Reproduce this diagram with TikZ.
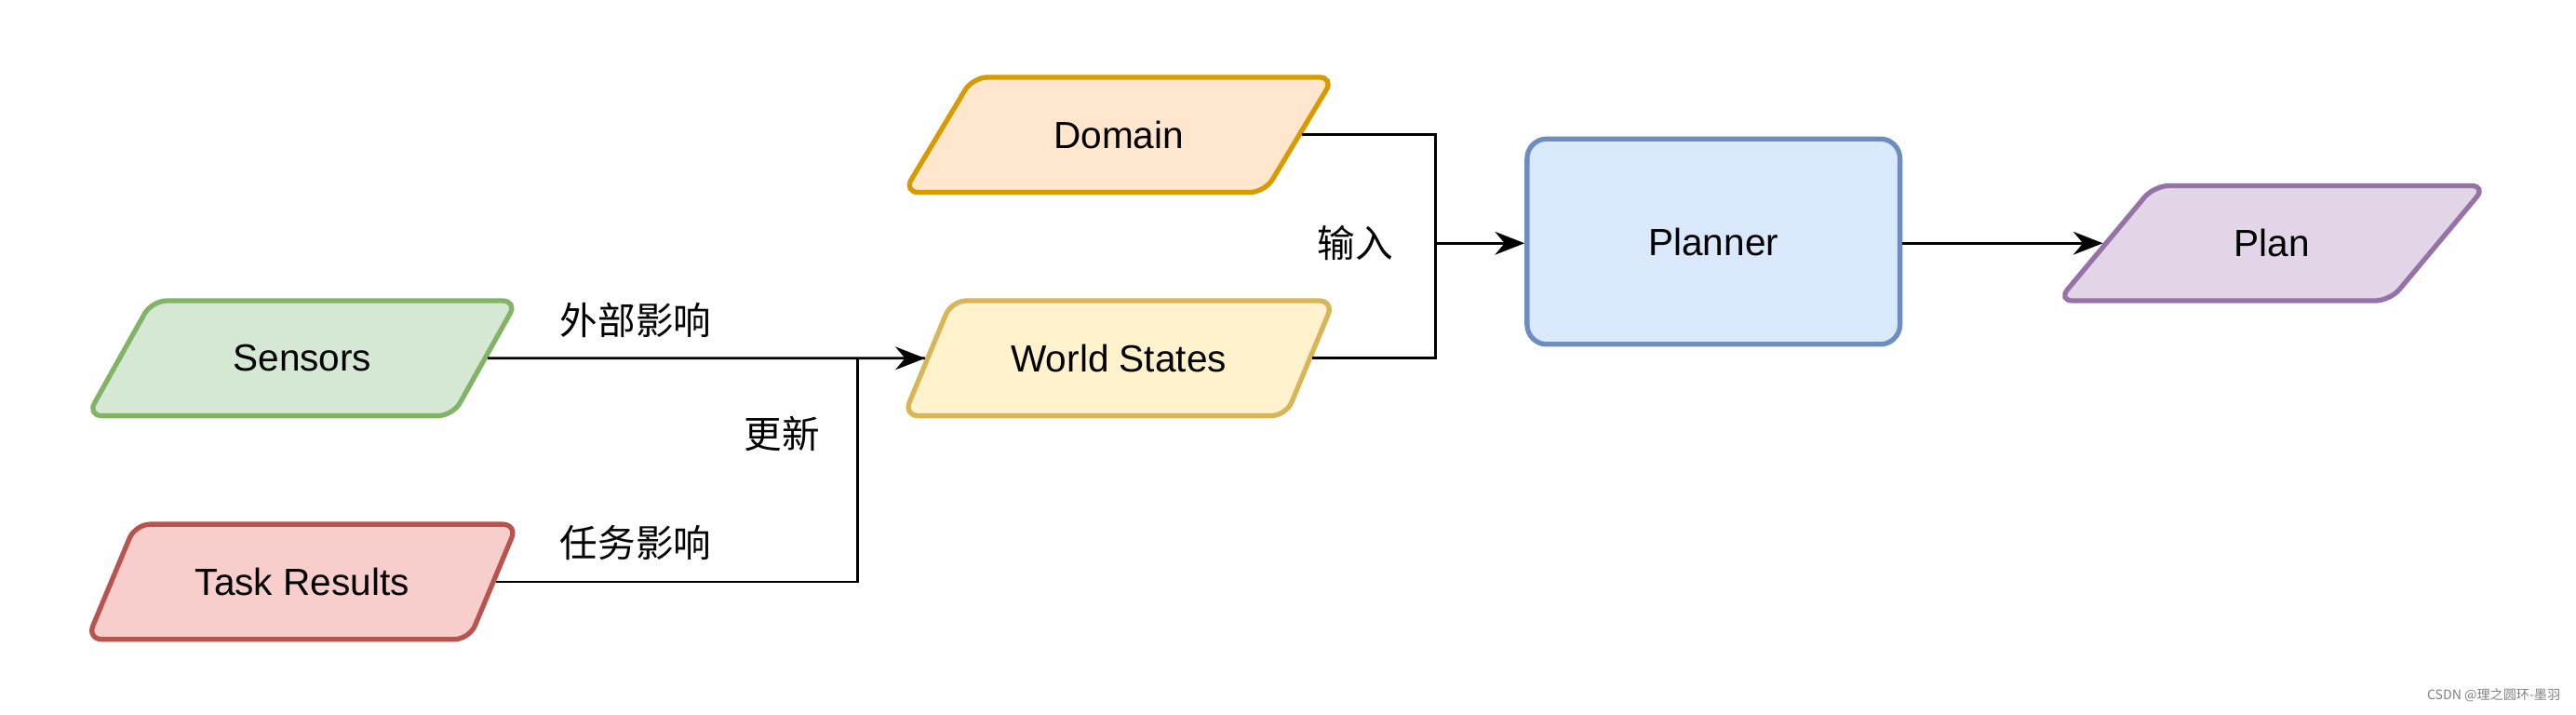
\documentclass[tikz,border=0pt]{standalone}
\usepackage{fontspec}
\setmainfont{Liberation Sans}
\newfontfamily\cjk{Noto Sans CJK SC}
\usetikzlibrary{shapes.geometric,arrows.meta}
\definecolor{dF}{HTML}{FFE6CC}\definecolor{dS}{HTML}{D79B00}
\definecolor{wF}{HTML}{FFF2CC}\definecolor{wS}{HTML}{D6B656}
\definecolor{sF}{HTML}{D5E8D4}\definecolor{sS}{HTML}{82B366}
\definecolor{tF}{HTML}{F8CECC}\definecolor{tS}{HTML}{B85450}
\definecolor{pF}{HTML}{DAE8FC}\definecolor{pS}{HTML}{6C8EBF}
\definecolor{qF}{HTML}{E1D5E7}\definecolor{qS}{HTML}{9673A6}
\begin{document}
\begin{tikzpicture}[x=1pt,y=-1pt,
  para/.style={trapezium,trapezium left angle=42,trapezium right angle=138,trapezium stretches=true,minimum width=262pt,minimum height=70pt,line width=3pt,rounded corners=9pt,font=\fontsize{23}{26}\selectfont,inner sep=0pt},
  conn/.style={line width=1.6pt,-{Stealth[length=18pt,width=14pt]}},
  lab/.style={font=\cjk\fontsize{23}{26}\selectfont}]
\useasboundingbox (0,0) rectangle (1568,435);
\node[para,draw=dS,fill=dF] (dom) at (681,82) {Domain};
\node[para,draw=wS,fill=wF] (ws) at (681,218) {World States};
\node[para,draw=sS,fill=sF] (sen) at (184,218) {Sensors};
\node[para,draw=tS,fill=tF] (task) at (184,354) {Task Results};
\node[draw=pS,fill=pF,line width=3pt,rounded corners=12pt,minimum width=227pt,minimum height=125pt,font=\fontsize{23}{26}\selectfont] (pl) at (1043,147) {Planner};
\node[para,draw=qS,fill=qF] (plan) at (1383,148) {Plan};
\coordinate (j1) at (522,218);
\coordinate (j2) at (874,148);
\draw[conn] (sen.east) -- (ws.west|-ws.east) -- (ws);
\draw[line width=1.6pt] (task.east) -| (j1);
\draw[line width=1.6pt] (dom.east) -| (j2);
\draw[line width=1.6pt] (ws.east) -| (j2);
\draw[conn] (j2) -- (j2-|pl.west);
\draw[conn] (pl.east|-j2) -- (plan.west|-j2);
\node[lab] (l1) at (387,195) {外部影响};
\node[lab] (l2) at (476,264) {更新};
\node[lab] (l3) at (387,330) {任务影响};
\node[lab] (l4) at (825,148) {输入};
\node[font=\cjk\fontsize{8}{9}\selectfont,text=gray,anchor=east] (wm) at (1562,423) {CSDN @理之圆环-墨羽};
\end{tikzpicture}
\end{document}
